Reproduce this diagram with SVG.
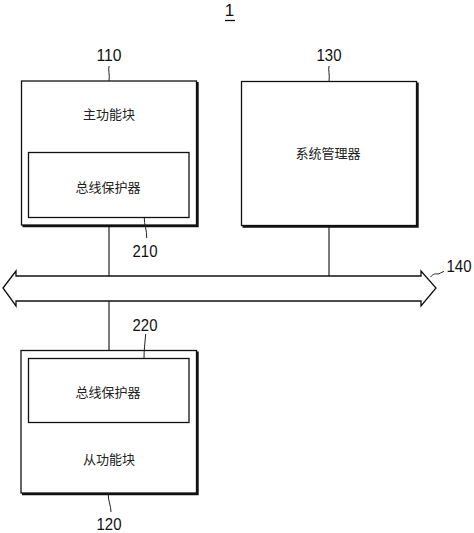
<svg xmlns="http://www.w3.org/2000/svg" width="474" height="533" viewBox="0 0 474 533">
<style>
.box{fill:#fff;stroke:#111;stroke-width:1.3}
.sh{fill:none;stroke:#111;stroke-width:2.2}
.ln{fill:none;stroke:#222;stroke-width:1.2}
.ld{fill:none;stroke:#222;stroke-width:1}
.num{font-family:"Liberation Sans",Arial,sans-serif;font-size:17px;fill:#111;text-anchor:middle}
.cn{font-family:"Noto Sans CJK SC","Noto Sans CJK TC",sans-serif;font-size:13px;fill:#222;text-anchor:middle}
</style>
<rect width="474" height="533" fill="#fff"/>
<g id="fig-label">
<text class="num" x="229.5" y="16">1</text>
<line x1="225" y1="20.5" x2="235" y2="20.5" stroke="#111" stroke-width="1.3"/>
</g>
<g id="connectors">
<line class="ln" x1="109" y1="226" x2="109" y2="276"/>
<line class="ln" x1="329" y1="226" x2="329" y2="276"/>
<line class="ln" x1="109" y1="301" x2="109" y2="350.5"/>
</g>
<g id="bus140">
<path class="box" d="M3,288 L16,271 L16,276 L421,276 L421,271 L436,288 L421,306 L421,301 L16,301 L16,306 Z" stroke-linejoin="miter"/>
<path class="ld" d="M430.5,277 C433,274 435,273.5 437,274 C439.5,274.5 441,272 444,271.5"/>
<text class="num" x="459" y="271.5" textLength="25" lengthAdjust="spacingAndGlyphs">140</text>
</g>
<g id="node110">
<rect class="box" x="21.5" y="81" width="175" height="144"/>
<path class="sh" d="M197.6,82 L197.6,226.1 L22.5,226.1"/>
<text class="cn" x="109" y="118.5">主功能块</text>
<path class="ld" d="M109,66 C108,70 110,75 109,81"/>
<text class="num" x="109" y="60.5" textLength="25" lengthAdjust="spacingAndGlyphs">110</text>
</g>
<g id="node210">
<rect class="box" x="28.5" y="152.5" width="160.5" height="65"/>
<text class="cn" x="108" y="191.5">总线保护器</text>
<path class="ld" d="M144.3,218 C144,224 147,230 146.7,238"/>
<text class="num" x="145" y="256.5" textLength="25" lengthAdjust="spacingAndGlyphs">210</text>
</g>
<g id="node130">
<rect class="box" x="241.5" y="81.5" width="175" height="144"/>
<path class="sh" d="M417.6,82.5 L417.6,226.6 L242.5,226.6"/>
<text class="cn" x="328" y="157.5">系统管理器</text>
<path class="ld" d="M329,66 C328,70 330,75 329,81.5"/>
<text class="num" x="329" y="60.5" textLength="25" lengthAdjust="spacingAndGlyphs">130</text>
</g>
<g id="node120">
<rect class="box" x="21" y="350.5" width="175.5" height="142.5"/>
<path class="sh" d="M197.6,351.5 L197.6,494.1 L22,494.1"/>
<text class="cn" x="109" y="463.5">从功能块</text>
<path class="ld" d="M108.3,494.5 C108,501 111,505 111,512"/>
<text class="num" x="109" y="530" textLength="25" lengthAdjust="spacingAndGlyphs">120</text>
</g>
<g id="node220">
<rect class="box" x="28.5" y="358.5" width="160.5" height="64"/>
<text class="cn" x="108" y="396.5">总线保护器</text>
<path class="ld" d="M145.7,334 C145,342 144,350 144,358.5"/>
<text class="num" x="145" y="331" textLength="25" lengthAdjust="spacingAndGlyphs">220</text>
</g>
</svg>
